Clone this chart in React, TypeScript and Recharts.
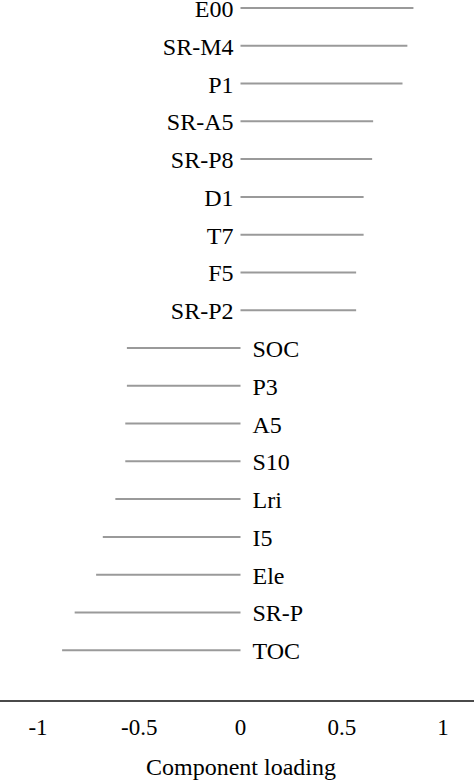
import React from 'react'
import { Bar, BarChart, LabelList, XAxis, YAxis } from 'recharts'

const variables = [
  'E00', 'SR-M4', 'P1', 'SR-A5', 'SR-P8', 'D1', 'T7', 'F5', 'SR-P2',
  'SOC', 'P3', 'A5', 'S10', 'Lri', 'I5', 'Ele', 'SR-P', 'TOC',
]
const loadings = [
  0.854, 0.824, 0.8, 0.655, 0.65, 0.608, 0.608, 0.571, 0.571,
  -0.561, -0.561, -0.569, -0.569, -0.618, -0.68, -0.713, -0.819, -0.881,
]
const xTicks = [-1, -0.5, 0, 0.5, 1]

const data = variables.map((name, i) => ({ name, loading: loadings[i] }))

const FONT = '"Liberation Serif", "Times New Roman", serif'

const VarLabel = (props: any) => {
  const { x, y, width, height, index } = props
  const v = loadings[index]
  const left = Math.min(x, x + width)
  const right = Math.max(x, x + width)
  const zero = v >= 0 ? left : right
  const cy = y + height / 2
  return (
    <text
      x={v >= 0 ? zero - 7 : zero + 12}
      y={cy}
      dy={9}
      textAnchor={v >= 0 ? 'end' : 'start'}
      style={{ fontFamily: FONT, fontSize: 24 }}
      fill="#000"
    >
      {variables[index]}
    </text>
  )
}

const AxisTitle = (props: any) => {
  const { viewBox } = props
  return (
    <text
      x={241}
      y={viewBox.y + 74}
      textAnchor="middle"
      style={{ fontFamily: FONT, fontSize: 24 }}
      fill="#000"
    >
      Component loading
    </text>
  )
}

const App = () => {
  return (
    <div style={{ width: 474, height: 780, background: '#fff' }}>
      <style>{'body { margin: 0; }'}</style>
      <BarChart
        width={474}
        height={780}
        data={data}
        layout="vertical"
        margin={{ top: -11, right: 0, bottom: 0, left: 0 }}
      >
        <XAxis
          type="number"
          domain={[-1, 1]}
          ticks={xTicks}
          padding={{ left: 38, right: 31 }}
          height={79}
          tickLine={false}
          tickSize={0}
          tickMargin={18}
          axisLine={{ stroke: '#4a4a4a', strokeWidth: 2 }}
          tick={{ fill: '#000', fontFamily: FONT, fontSize: 23, style: { fontFamily: FONT } }}
          tickFormatter={(v: number) => String(v)}
          label={<AxisTitle />}
        />
        <YAxis type="category" dataKey="name" hide padding={{ top: 0, bottom: 32 }} />
        <Bar dataKey="loading" fill="#9a9a9a" barSize={2} isAnimationActive={false}>
          <LabelList dataKey="loading" content={<VarLabel />} />
        </Bar>
      </BarChart>
    </div>
  )
}

export default App
